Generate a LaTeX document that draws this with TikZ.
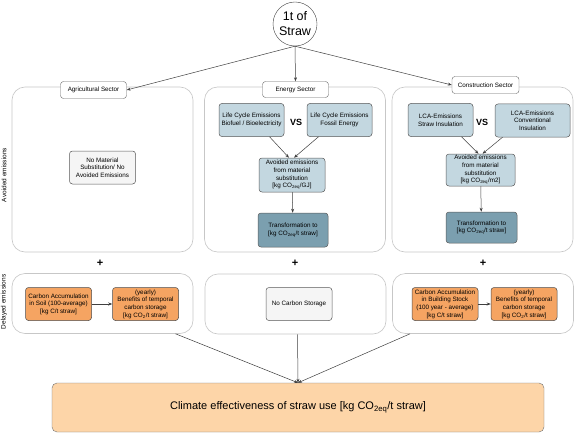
\documentclass[tikz,border=0pt]{standalone}
\usepackage{fontspec}
\setmainfont{Liberation Sans}
\usetikzlibrary{arrows.meta}
\definecolor[named]{StrawBlue}{HTML}{C3D7E0}
\definecolor[named]{StrawDark}{HTML}{7B9FAF}
\definecolor[named]{StrawOrange}{HTML}{F5A462}
\definecolor[named]{StrawPeach}{HTML}{FDD5A8}
\colorlet{panelline}{black!22}
\colorlet{greyfill}{black!4}
\newcommand{\coeq}{CO\textsubscript{2eq}}
\newcommand{\smallfont}{\fontsize{6.3}{7.6}\selectfont}
\tikzset{
  panel/.style={draw=panelline, fill=white, rounded corners=13pt, line width=0.6pt,
    minimum width=181pt},
  sector/.style={draw=black!60, fill=white, rounded corners=3pt, font=\smallfont,
    minimum width=66pt, minimum height=17pt, inner sep=1pt},
  inbox/.style={draw=black!65, rounded corners=3pt, align=center, inner sep=1pt,
    font=\smallfont, line width=0.5pt, minimum height=33pt},
  bluebox/.style={inbox, fill=StrawBlue, minimum width=65pt},
  darkbox/.style={inbox, fill=StrawDark, minimum width=70pt},
  orangebox/.style={inbox, fill=StrawOrange, minimum width=66pt, draw=black!70},
  greybox/.style={inbox, fill=greyfill, minimum width=66pt},
  vs/.style={font=\fontsize{9}{10}\selectfont\bfseries},
  plus/.style={font=\fontsize{11}{12}\selectfont\bfseries},
  sidelabel/.style={rotate=90, font=\fontsize{6.5}{7}\selectfont},
  arr/.style={-{Stealth[length=4pt,width=3pt]}, draw=black!75, line width=0.5pt}
}

\begin{document}
\begin{tikzpicture}[x=1pt,y=-1pt]
  \useasboundingbox (0,0) rectangle (575,433);

  % panels
  \node[panel, minimum height=165pt] (avL) at (102.5,169.5) {};
  \node[panel, minimum height=165pt] (avM) at (295,169.5) {};
  \node[panel, minimum height=165pt] (avR) at (482.5,169.5) {};
  \node[panel, minimum height=60pt] (dlL) at (102.5,303.5) {};
  \node[panel, minimum height=60pt] (dlM) at (295.5,304) {};
  \node[panel, minimum height=60pt] (dlR) at (483,303.5) {};

  \node[sidelabel] (lblAv) at (4,175) {Avoided emissions};
  \node[sidelabel] (lblDl) at (4,302) {Delayed emissions};

  % top
  \node[circle, draw=black!75, fill=white, minimum size=44pt, inner sep=0pt, align=center,
    font=\fontsize{12.5}{15}\selectfont] (straw) at (295,24) {1t of\\Straw};
  \node[sector] (agri) at (93.5,90) {Agricultural Sector};
  \node[sector, minimum height=16pt] (energy) at (295.5,89.5) {Energy Sector};
  \node[sector, minimum width=67pt] (constr) at (485.5,85) {Construction Sector};
  \draw[arr] (straw.south) -- (agri.east);
  \draw[arr] (straw.south) -- (energy.north);
  \draw[arr] (straw.south) -- (constr.west);

  % agricultural sector
  \node[greybox] (noSub) at (102.5,167.5) {No Material\\Substitution/ No\\Avoided Emissions};

  % energy sector
  \node[bluebox] (bio) at (251.5,120) {Life Cycle Emissions\\Biofuel / Bioelectricity};
  \node[bluebox] (fossil) at (339.5,120) {Life Cycle Emissions\\Fossil Energy};
  \node[vs] (vsE) at (296,122) {VS};
  \node[bluebox, minimum width=66pt, minimum height=34pt] (avE) at (292,175)
    {Avoided emissions\\from material\\substitution\\{}[kg \coeq/GJ]};
  \node[darkbox, minimum height=34pt] (trE) at (293,230) {Transformation to\\{}[kg \coeq/t straw]};
  \draw[arr] ([xshift=18pt]bio.south) -- ([xshift=-3pt]avE.north);
  \draw[arr] ([xshift=-21pt]fossil.south) -- ([xshift=2pt]avE.north);
  \draw[arr] (avE) -- (trE);

  % construction sector
  \node[bluebox] (ins) at (440.5,120) {LCA-Emissions\\Straw Insulation};
  \node[bluebox, minimum width=75pt] (conv) at (532.5,120.5) {LCA-Emissions\\Conventional\\Insulation};
  \node[vs] (vsC) at (482,122) {VS};
  \node[bluebox, minimum width=69pt, minimum height=32pt] (avC) at (480.5,170)
    {Avoided emissions\\from material\\substitution\\{}[kg \coeq/m2]};
  \node[darkbox, minimum width=71pt, minimum height=31pt] (trC) at (481.5,227.5) {Transformation to\\{}[kg \coeq/t straw]};
  \draw[arr] ([xshift=21pt]ins.south) -- ([xshift=-2pt]avC.north);
  \draw[arr] ([xshift=-30pt]conv.south) -- ([xshift=2pt]avC.north);
  \draw[arr] (avC) -- (trC);

  \foreach \x/\n in {100/L,295/M,483/R}
    \node[plus] (plus\n) at (\x,263) {+};

  % delayed emissions
  \node[orangebox] (accS) at (58.5,304) {Carbon Accumulation\\in Soil (100-average)\\{}[kg C/t straw]};
  \node[orangebox] (benS) at (145.5,304) {(yearly)\\Benefits of temporal\\carbon storage\\{}[kg CO\textsubscript{2}/t straw]};
  \draw[arr] (accS) -- (benS);
  \node[greybox] (noSt) at (299,304) {No Carbon Storage};
  \node[orangebox] (accB) at (445,304) {Carbon Accumulation\\in Building Stock\\(100 year - average)\\{}[kg C/t straw]};
  \node[orangebox] (benB) at (524,304) {(yearly)\\Benefits of temporal\\carbon storage\\{}[kg CO\textsubscript{2}/t straw]};
  \draw[arr] (accB) -- (benB);

  % result
  \node[draw=black!55, fill=StrawPeach, rounded corners=5pt, minimum width=492pt,
    minimum height=49pt, font=\fontsize{11}{13}\selectfont] (fin) at (298,407.5)
    {Climate effectiveness of straw use [kg \coeq/t straw]};
  \draw[arr] ([xshift=73pt]dlL.south) -- (fin.north);
  \draw[arr] ([xshift=2pt]dlM.south) -- (fin.north);
  \draw[arr] ([xshift=-73pt]dlR.south) -- (fin.north);
\end{tikzpicture}
\end{document}
